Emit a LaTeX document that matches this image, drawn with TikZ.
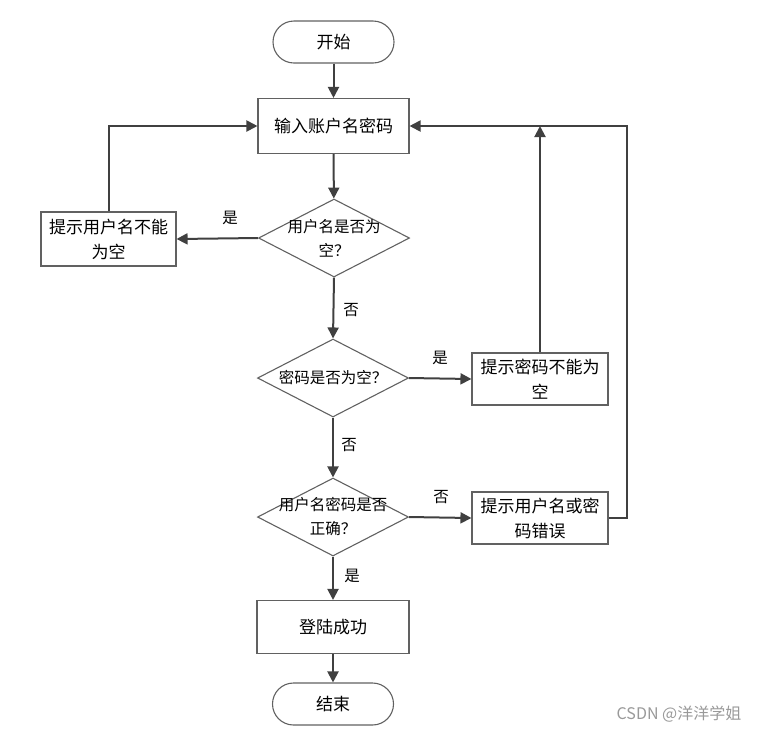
\documentclass[tikz,border=0pt]{standalone}
\usepackage{fontspec}
\setmainfont{Noto Sans CJK SC}
\usetikzlibrary{shapes.geometric,arrows.meta}
\tikzset{
  terminal/.style={draw=black!62, line width=1.1pt, rectangle, rounded corners=21pt,
    minimum width=121pt, minimum height=42pt, font=\fontsize{17}{25}\selectfont},
  process/.style={draw=black!62, line width=1.1pt, rectangle, align=center,
    minimum width=151pt, minimum height=55pt, font=\fontsize{17}{25}\selectfont},
  decision/.style={draw=black!62, line width=1.1pt, diamond, inner sep=0pt,
    minimum width=151pt, minimum height=78pt},
  flow/.style={draw=black!75, line width=2pt, -{Triangle[length=11pt,width=11pt]}},
  answer/.style={font=\fontsize{15.5}{18}\selectfont}
}
\begin{document}
\begin{tikzpicture}[x=1pt, y=-1pt]
    \useasboundingbox (0,0) rectangle (762,732);
    % Inicio y entrada
    \node[terminal] (start) at (333.5,42) {开始};
    \node[process] (input) at (333.5,126) {输入账户名密码};
    % Decisiones
    \node[decision, label={[align=center, font=\fontsize{15.5}{24}\selectfont]center:用户名是否为\\空？}] (user) at (334,238) {};
    \node[decision, label={[font=\fontsize{15.5}{24}\selectfont]center:密码是否为空？}] (pass) at (333,378) {};
    \node[decision, label={[align=center, font=\fontsize{15.5}{24}\selectfont]center:用户名密码是否\\正确？}] (check) at (333,517) {};
    % Mensajes
    \node[process, minimum width=135pt, minimum height=54pt] (nouser) at (108.5,239) {提示用户名不能\\为空};
    \node[process, minimum width=136pt, minimum height=52pt] (nopass) at (540,379) {提示密码不能为\\空};
    \node[process, minimum width=136pt, minimum height=52pt] (wrong) at (540,518) {提示用户名或密\\码错误};
    % Fin
    \node[process, minimum width=152pt, minimum height=53pt] (ok) at (333,627) {登陆成功};
    \node[terminal] (stop) at (333,704) {结束};
    \coordinate (back) at (627,126);
    % Flechas
    \draw[flow] (start) -- (input);
    \draw[flow] (input) -- (user);
    \draw[flow] (user.west) -- (nouser.east);
    \draw[flow] (nouser.north) |- (input.west);
    \draw[flow] (user.south) -- (pass.north);
    \draw[flow] (pass.east) -- (nopass.west);
    \draw[flow] (nopass.north) -- (nopass.north |- input.east);
    \draw[flow] (pass.south) -- (check.north);
    \draw[flow] (check.east) -- (wrong.west);
    \draw[flow] (wrong.east) -| (back) -- (input.east);
    \draw[flow] (check.south) -- (ok.north);
    \draw[flow] (ok) -- (stop);
    % Etiquetas
    \node[answer] (yes1) at (230,218) {是};
    \node[answer] (no1) at (351,310) {否};
    \node[answer] (yes2) at (440,358) {是};
    \node[answer] (no2) at (349,445) {否};
    \node[answer] (no3) at (441,497) {否};
    \node[answer] (yes3) at (352,576) {是};
    \node[text=black!40, font=\fontsize{16}{18}\selectfont] (mark) at (679,714) {CSDN @洋洋学姐};
\end{tikzpicture}
\end{document}
